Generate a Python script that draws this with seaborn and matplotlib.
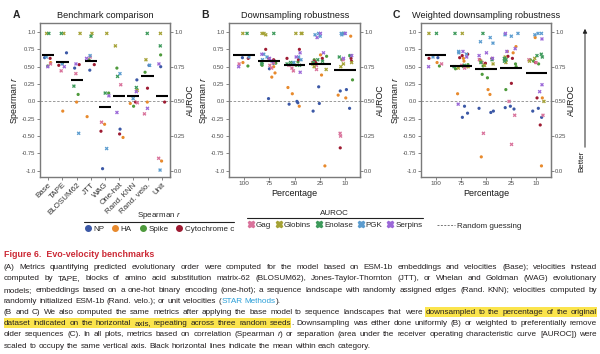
import numpy as np
import pandas as pd
import matplotlib
matplotlib.use("Agg")
import matplotlib.pyplot as plt
import seaborn as sns
from matplotlib import font_manager
from matplotlib.lines import Line2D
from matplotlib.patches import Rectangle, FancyArrowPatch

# ---------------- data ----------------
sp_names = ["NP", "HA", "Spike", "Cytochrome c"]
au_names = ["Gag", "Globins", "Enolase", "PGK", "Serpins"]
sp_colors = ["#3b58a6", "#e88a2d", "#4e9a3c", "#9e1b32"]
au_colors = ["#d9729b", "#a5a236", "#3d9a5b", "#5b9ccf", "#9b68d8"]

# (A) benchmark comparison, one value per method
bench_cats = ["Base", "TAPE", "BLOSUM62", "JTT", "WAG", "One-hot",
              "Rand. KNN", "Rand. velo.", "Unit"]
bench_np = [0.63, 0.70, 0.48, 0.45, -0.97, -0.40, 0.31, 0.52, 0.50]
bench_ha = [0.56, -0.14, -0.01, -0.22, -0.33, -0.52, -0.03, -0.01, -0.86]
bench_spike = [0.51, 0.55, 0.10, 0.60, 0.12, 0.48, -0.07, 0.42, 0.67]
bench_cyt = [0.62, 0.52, 0.53, 0.53, -0.43, -0.47, -0.01, 0.19, -0.01]
bench_gag = [0.77, 0.72, 0.70, 0.82, 0.35, 0.62, 0.49, 0.41, 0.09]
bench_globins = [0.99, 0.99, 0.99, 0.99, 0.99, 0.90, 0.58, 0.80, 0.99]
bench_enolase = [0.99, 0.99, 0.61, 0.97, 0.56, 0.68, 0.60, 0.99, 0.90]
bench_pgk = [0.82, 0.77, 0.27, 0.83, 0.16, 0.70, 0.52, 0.76, 0.005]
bench_serpins = [0.75, 0.75, 0.77, 0.81, 0.54, 0.42, 0.57, 0.45, 0.77]
bench_means = [0.667, 0.562, 0.305, 0.581, -0.076, 0.076, 0.076, 0.367, 0.076]

# (B, C) downsampling, three seeds per percentage (75, 50, 25, 10)
pct_cats = ["100", "75", "50", "25", "10"]
seed_pcts = ["75"] * 3 + ["50"] * 3 + ["25"] * 3 + ["10"] * 3

uni_np = [0.47, 0.04, 0.55, -0.02, -0.04, 0.00, 0.21, -0.03, -0.14, 0.17, 0.15, -0.10]
uni_ha = [0.41, 0.35, 0.50, 0.20, 0.11, -0.07, 0.67, 0.38, -0.93, 0.94, 0.09, 0.05]
uni_spike = [0.55, 0.52, 0.58, 0.55, 0.52, 0.57, 0.65, 0.60, 0.55, 0.66, 0.31, 0.60]
uni_cyt = [0.75, 0.62, 0.60, 0.75, 0.60, 0.62, 0.62, 0.58, 0.56, -0.67, 0.62, 0.58]
uni_gag = [0.74, 0.78, 0.76, 0.72, 0.76, 0.74, 0.78, 0.76, 0.73, 0.27, 0.25, 0.80]
uni_globins = [0.99, 0.99, 0.98, 0.99, 0.99, 0.99, 0.75, 0.73, 0.77, 0.77, 0.75, 0.78]
uni_enolase = [0.99, 0.78, 0.77, 0.78, 0.77, 0.76, 0.79, 0.78, 0.80, 0.83, 0.82, 0.99]
uni_pgk = [0.82, 0.80, 0.84, 0.80, 0.78, 0.82, 0.99, 0.98, 0.97, 0.99, 0.99, 0.98]
uni_serpins = [0.84, 0.81, 0.79, 0.85, 0.82, 0.71, 0.99, 0.96, 0.85, 0.99, 0.83, 0.81]
uni_means = [0.667, 0.576, 0.524, 0.543, 0.452]

wt_np = [-0.07, -0.17, -0.23, -0.10, -0.14, -0.16, -0.07, -0.09, -0.11, -0.10, -0.14, -0.23]
wt_ha = [0.11, 0.62, 0.58, 0.17, 0.10, -0.80, 0.79, 0.70, 0.72, 0.92, 0.05, -0.93]
wt_spike = [0.50, 0.47, 0.53, 0.51, 0.39, 0.34, 0.54, 0.17, 0.50, 0.60, 0.54, 0.58]
wt_cyt = [0.68, 0.63, 0.66, 0.60, 0.62, 0.55, 0.62, 0.65, 0.26, -0.34, 0.05, 0.56]
wt_gag = [0.74, 0.76, 0.75, 0.27, 0.80, 0.78, 0.50, 0.40, 0.19, 0.40, 0.78, 0.80]
wt_globins = [0.99, 0.74, 0.75, 0.77, 0.76, 0.79, 0.80, 0.82, 0.78, 0.50, 0.79, 0.81]
wt_enolase = [0.99, 0.75, 0.76, 0.99, 0.80, 0.78, 0.80, 0.79, 0.81, 0.83, 0.82, 0.84]
wt_pgk = [0.85, 0.86, 0.84, 0.96, 0.93, 0.92, 0.99, 0.98, 0.97, 0.99, 0.98, 0.99]
wt_serpins = [0.48, 0.82, 0.86, 0.85, 0.83, 0.81, 0.99, 0.86, 0.88, 0.95, 0.62, 0.57]
wt_means = [0.667, 0.514, 0.462, 0.480, 0.410]

left_ticks = [1.0, 0.75, 0.5, 0.25, 0.0, -0.25, -0.5, -0.75, -1.0]
left_labels = ["1.0", "0.75", "0.50", "0.25", "0.0", "-0.25", "-0.50", "-0.75", "-1.0"]
right_ticks = [0.0, 0.25, 0.5, 0.75, 1.0]
right_labels = ["0.0", "0.25", "0.50", "0.75", "1.0"]

# caption: (text, style) pieces; n normal, h highlighted, l link, i italic
caption_title = "Figure 6.  Evo-velocity benchmarks"
caption_lines = [
    [("(A) Metrics quantifying predicted evolutionary order were computed for the model based on ESM-1b embeddings and velocities (Base); velocities instead", "n")],
    [("computed by TAPE, blocks of amino acid substitution matrix-62 (BLOSUM62), Jones-Taylor-Thornton (JTT), or Whelan and Goldman (WAG) evolutionary", "n")],
    [("models; embeddings based on a one-hot binary encoding (one-hot); a sequence landscape with randomly assigned edges (Rand. KNN); velocities computed by", "n")],
    [("randomly initialized ESM-1b (Rand. velo.); or unit velocities (", "n"), ("STAR Methods", "l"), (").", "n")],
    [("(B and C) We also computed the same metrics after applying the base model to sequence landscapes that were ", "n"),
     ("downsampled to the percentage of the original", "h")],
    [("dataset indicated on the horizontal axis, repeating across three random seeds", "h"),
     (". Downsampling was either done uniformly (B) or weighted to preferentially remove", "n")],
    [("older sequences (C). In all plots, metrics based on correlation (Spearman ", "n"), ("r", "i"),
     (") or separation (area under the receiver operating characteristic curve [AUROC]) were", "n")],
    [("scaled to occupy the same vertical axis. Black horizontal lines indicate the mean within each category.", "n")],
]
caption_justified = [True, True, True, False, True, True, True, False]

# ---------------- style ----------------
sns.set_style("ticks")
plt.rcParams["font.family"] = ["Liberation Sans", "DejaVu Sans"]
plt.rcParams["mathtext.fontset"] = "custom"
plt.rcParams["mathtext.rm"] = "Liberation Sans"
plt.rcParams["mathtext.it"] = "Liberation Sans:italic"
np.random.seed(7)  # jitter only

installed = {f.name for f in font_manager.fontManager.ttflist}
cap_family = "Liberation Sans Narrow" if "Liberation Sans Narrow" in installed else "Liberation Sans"

W, H = 600, 354
fig = plt.figure(figsize=(W / 100, H / 100), dpi=100)


def fx(px):
    return px / W


def fy(py):
    return 1 - py / H


def make_long(cats, table, names):
    rows = []
    for name, vals in zip(names, table):
        for cat, v in zip(cats, vals):
            rows.append({"cat": cat, "dataset": name, "value": v})
    return pd.DataFrame(rows)


def draw_panel(ax, cats, row_cats, sp_table, au_table, means, rotate):
    sp = make_long(row_cats, sp_table, sp_names)
    au = make_long(row_cats, au_table, au_names)
    au["value"] = 2 * au["value"] - 1  # AUROC mapped onto the Spearman scale

    ax.axhline(0, color="#8a8a8a", lw=0.6, ls=(0, (3, 2)), zorder=0)
    sns.stripplot(data=sp, x="cat", y="value", hue="dataset", order=cats,
                  hue_order=sp_names, palette=sp_colors, marker="o", size=2.3,
                  jitter=0.3, linewidth=0, legend=False, ax=ax, zorder=2)
    sns.stripplot(data=au, x="cat", y="value", hue="dataset", order=cats,
                  hue_order=au_names, palette=au_colors, marker="X", size=2.8,
                  jitter=0.3, linewidth=0, legend=False, ax=ax, zorder=2)
    for i, m in enumerate(means):
        ax.plot([i - 0.43, i + 0.43], [m, m], color="black", lw=1.5,
                solid_capstyle="butt", zorder=4)

    ax.set_xlim(-0.58, len(cats) - 0.42)
    ax.set_ylim(-1.09, 1.13)
    ax.set_yticks(left_ticks, labels=left_labels)
    ax.set_ylabel("Spearman $\\mathit{r}$", fontsize=6.3, labelpad=0.5, color="#1a1a1a")
    for s in ax.spines.values():
        s.set_visible(True)
        s.set_color("#7a7a7a")
        s.set_linewidth(1.0)
    ax.tick_params(axis="both", length=2, width=0.5, color="#555555", pad=1.2,
                   labelsize=4.2, labelcolor="#4d4d4d")
    if rotate:
        ax.set_xlabel("")
        ax.set_xticks(range(len(cats)))
        ax.set_xticklabels(cats, rotation=45, ha="right", rotation_mode="anchor",
                           fontsize=5.8, color="#333333")
    else:
        ax.set_xlabel("Percentage", fontsize=6.5, labelpad=2, color="#1a1a1a")
        ax.tick_params(axis="x", labelsize=4.6)

    sec = ax.secondary_yaxis("right", functions=(lambda r: (r + 1) / 2,
                                                 lambda a: 2 * a - 1))
    sec.set_yticks(right_ticks, labels=right_labels)
    sec.tick_params(length=2, width=0.5, color="#555555", pad=1.0,
                    labelsize=4.2, labelcolor="#4d4d4d")
    sec.spines["right"].set_color("#7a7a7a")
    sec.set_ylabel("AUROC", fontsize=6.3, labelpad=0.5, color="#1a1a1a")


ax_a = fig.add_axes([fx(40), fy(177), 130 / W, 154 / H])
ax_b = fig.add_axes([fx(229), fy(177), 131 / W, 154 / H])
ax_c = fig.add_axes([fx(421), fy(177), 130 / W, 154 / H])

draw_panel(ax_a, bench_cats, bench_cats,
           [bench_np, bench_ha, bench_spike, bench_cyt],
           [bench_gag, bench_globins, bench_enolase, bench_pgk, bench_serpins],
           bench_means, True)

row_pcts = ["100"] + seed_pcts
base = 0
draw_panel(ax_b, pct_cats, row_pcts,
           [[bench_np[base]] + uni_np, [bench_ha[base]] + uni_ha,
            [bench_spike[base]] + uni_spike, [bench_cyt[base]] + uni_cyt],
           [[bench_gag[base]] + uni_gag, [bench_globins[base]] + uni_globins,
            [bench_enolase[base]] + uni_enolase, [bench_pgk[base]] + uni_pgk,
            [bench_serpins[base]] + uni_serpins],
           uni_means, False)
draw_panel(ax_c, pct_cats, row_pcts,
           [[bench_np[base]] + wt_np, [bench_ha[base]] + wt_ha,
            [bench_spike[base]] + wt_spike, [bench_cyt[base]] + wt_cyt],
           [[bench_gag[base]] + wt_gag, [bench_globins[base]] + wt_globins,
            [bench_enolase[base]] + wt_enolase, [bench_pgk[base]] + wt_pgk,
            [bench_serpins[base]] + wt_serpins],
           wt_means, False)

# panel letters and titles
for letter, lx, title, tx in [("A", 16, "Benchmark comparison", 105),
                              ("B", 205, "Downsampling robustness", 295),
                              ("C", 396, "Weighted downsampling robustness", 486)]:
    fig.text(fx(lx), fy(15), letter, fontsize=7.5, fontweight="bold",
             ha="center", va="center")
    fig.text(fx(tx), fy(16), title, fontsize=6.6, ha="center", va="center",
             color="#1a1a1a")

# "Better" arrow
fig.add_artist(FancyArrowPatch((fx(585), fy(150)), (fx(585), fy(26)),
                               transform=fig.transFigure, arrowstyle="-|>",
                               mutation_scale=6, lw=0.7, color="#222222"))
fig.text(fx(582), fy(161), "Better", rotation=90, fontsize=5.8,
         ha="center", va="center", color="#1a1a1a")

# legends
sp_handles = [Line2D([], [], ls="", marker="o", ms=4, color=c, label=n)
              for n, c in zip(sp_names, sp_colors)]
au_handles = [Line2D([], [], ls="", marker="X", ms=4.6, color=c, label=n)
              for n, c in zip(au_names, au_colors)]
rg_handle = [Line2D([], [], ls=(0, (2, 1.5)), lw=0.7, color="#777777",
                    label="Random guessing")]
leg_kw = dict(frameon=False, fontsize=5.8, title_fontsize=5.8, borderpad=0,
              borderaxespad=0, handletextpad=0.25, columnspacing=0.9,
              handlelength=0.9, loc="upper left")
leg1 = fig.legend(handles=sp_handles, title="Spearman $\\mathit{r}$", ncol=4,
                  bbox_to_anchor=(fx(84), fy(210)), **leg_kw)
leg_kw_au = dict(leg_kw)
leg_kw_au["columnspacing"] = 0.5
leg_kw_au["handletextpad"] = 0.2
leg2 = fig.legend(handles=au_handles, title="AUROC", ncol=5,
                  bbox_to_anchor=(fx(247), fy(210)), **leg_kw_au)
leg_kw_rg = dict(leg_kw)
leg_kw_rg["handlelength"] = 2.2
leg3 = fig.legend(handles=rg_handle, bbox_to_anchor=(fx(437), fy(222)), **leg_kw_rg)

# ---------------- caption ----------------
renderer = fig.canvas.get_renderer()
CX0, CX1 = 4, 597


def piece_kw(style, fs):
    kw = dict(fontsize=fs, color="#231f20", family=[cap_family, "DejaVu Sans"])
    if style == "l":
        kw["color"] = "#2a9fd8"
    if style == "i":
        kw["style"] = "italic"
    return kw


def text_width(s, kw):
    t = fig.text(0, 0, s, **kw)
    w = t.get_window_extent(renderer).width
    t.remove()
    return w


def split_words(segs):
    words = [[]]
    for text, style in segs:
        for k, part in enumerate(text.split(" ")):
            if k > 0:
                words.append([])
            if part:
                words[-1].append((part, style))
    return [w for w in words if w]


def space_width(fs):
    return text_width("a a", piece_kw("n", fs)) - text_width("aa", piece_kw("n", fs))


def widest_line(fs):
    widest = 0
    sp_w = space_width(fs)
    for segs, just in zip(caption_lines, caption_justified):
        if not just:
            continue
        words = split_words(segs)
        nat = sum(text_width(p, piece_kw(s, fs)) for w in words for p, s in w)
        widest = max(widest, nat + sp_w * (len(words) - 1))
    return widest


# caption size: at most 6.0 pt, shrunk until every justified line fits
fs = 6.0
for _ in range(4):
    nat = widest_line(fs)
    if nat <= CX1 - CX0:
        break
    fs *= (CX1 - CX0) / nat * 0.995
space = space_width(fs)

fig.text(fx(CX0), fy(257), caption_title, fontsize=6.4, fontweight="bold",
         color="#cc2a36", ha="left", va="baseline")

for li, (segs, just) in enumerate(zip(caption_lines, caption_justified)):
    base_y = 269.3 + 11.2 * li
    words = split_words(segs)
    widths = [[text_width(p, piece_kw(s, fs)) for p, s in w] for w in words]
    total = sum(sum(w) for w in widths)
    gap = (CX1 - CX0 - total) / (len(words) - 1) if just else space
    x = CX0
    for wi, (word, ww) in enumerate(zip(words, widths)):
        for pi, ((p, s), pw) in enumerate(zip(word, ww)):
            fig.text(fx(x), fy(base_y), p, ha="left", va="baseline", zorder=3,
                     **piece_kw(s, fs))
            if s == "h":
                ext = pw
                last = pi == len(word) - 1
                if last and wi + 1 < len(words) and words[wi + 1][0][1] == "h":
                    ext += gap
                fig.add_artist(Rectangle((fx(x), fy(base_y + 2.6)), ext / W, 9.6 / H,
                                         transform=fig.transFigure, facecolor="#fbe44c",
                                         edgecolor="none", zorder=1))
            x += pw
        x += gap

# rules under the legend titles
fig.canvas.draw()
for leg in (leg1, leg2):
    bb = leg.get_window_extent(renderer)
    tb = leg.get_title().get_window_extent(renderer)
    ly = tb.y0 - 1
    fig.add_artist(Line2D([bb.x0 / W, bb.x1 / W], [ly / H, ly / H],
                          transform=fig.transFigure, color="#222222", lw=0.8))

fig.savefig("out.png", dpi=100)
